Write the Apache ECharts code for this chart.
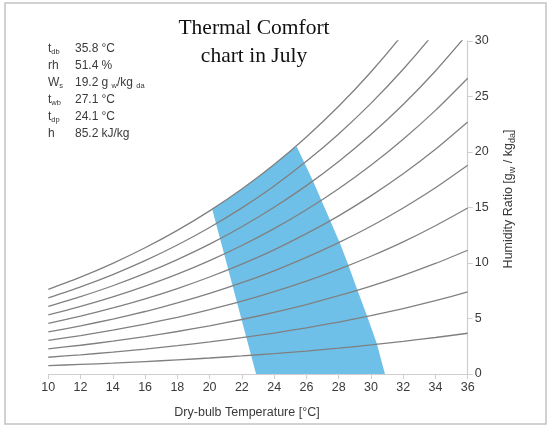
<!DOCTYPE html>
<html>
<head>
<meta charset="utf-8">
<script src="https://cdn.jsdelivr.net/npm/echarts@6/dist/echarts.min.js"></script>
<style>
html,body{margin:0;padding:0;background:#fff;}
#chart{width:550px;height:430px;}
</style>
</head>
<body>
<div id="chart"></div>
<script>
// Dry-bulb temperatures (°C) at which each relative-humidity curve is sampled
const temps = [10, 12, 14, 16, 18, 20, 22, 24, 26, 28, 30, 32, 34, 36];
// Humidity ratio (g/kg) along each relative-humidity curve
const rh10  = [0.76, 0.86, 0.98, 1.12, 1.27, 1.44, 1.63, 1.84, 2.07, 2.33, 2.62, 2.94, 3.29, 3.67];
const rh20  = [1.51, 1.73, 1.97, 2.24, 2.55, 2.89, 3.27, 3.69, 4.16, 4.68, 5.26, 5.90, 6.61, 7.39];
const rh30  = [2.27, 2.59, 2.96, 3.37, 3.83, 4.34, 4.91, 5.55, 6.26, 7.05, 7.92, 8.89, 9.96, 11.15];
const rh40  = [3.03, 3.46, 3.95, 4.50, 5.11, 5.80, 6.56, 7.42, 8.37, 9.43, 10.61, 11.91, 13.36, 14.96];
const rh50  = [3.79, 4.34, 4.95, 5.63, 6.40, 7.26, 8.23, 9.30, 10.50, 11.83, 13.31, 14.96, 16.78, 18.81];
const rh60  = [4.56, 5.21, 5.95, 6.77, 7.70, 8.74, 9.90, 11.19, 12.64, 14.25, 16.05, 18.04, 20.25, 22.71];
const rh70  = [5.32, 6.09, 6.95, 7.92, 9.00, 10.22, 11.58, 13.10, 14.80, 16.69, 18.80, 21.15, 23.75, 26.65];
const rh80  = [6.09, 6.97, 7.95, 9.06, 10.31, 11.70, 13.27, 15.02, 16.97, 19.15, 21.58, 24.28, 27.30, 30.65];
const rh90  = [6.86, 7.85, 8.96, 10.21, 11.62, 13.20, 14.97, 16.94, 19.16, 21.63, 24.38, 27.45, 30.88, 34.69];
const rh100 = [7.63, 8.73, 9.97, 11.37, 12.94, 14.70, 16.67, 18.88, 21.36, 24.12, 27.21, 30.66, 34.50, 38.79];
const rhCurves = [rh10, rh20, rh30, rh40, rh50, rh60, rh70, rh80, rh90, rh100];

// Comfort zone outline (dry-bulb °C, humidity ratio g/kg)
const zoneT = [20.17, 21, 22, 23, 24, 25, 25.4, 26.43, 27.46, 28.08, 28.6, 29.12, 29.74, 30.36, 30.87, 22.88];
const zoneW = [14.8, 15.66, 16.67, 17.74, 18.88, 20.09, 20.5, 17.32, 13.87, 11.77, 9.82, 7.72, 5.32, 2.77, 0, 0];

// Axis ticks
const xTicks = [10, 12, 14, 16, 18, 20, 22, 24, 26, 28, 30, 32, 34, 36];
const yTicks = [0, 5, 10, 15, 20, 25, 30];

// Info panel
const infoLabels = ['{m|t}{s|db}', '{m|rh}', '{m|W}{s|s}', '{m|t}{s|wb}', '{m|t}{s|dp}', '{m|h}'];
const infoValues = ['35.8', '51.4', '19.2', '27.1', '24.1', '85.2'];
const infoUnits = ['{m|°C}', '{m|%}', '{m|g }{s|w}{m|/kg }{s|da}', '{m|°C}', '{m|°C}', '{m|kJ/kg}'];

const titleText = 'Thermal Comfort\nchart in July';

const chart = echarts.init(document.getElementById('chart'), null, {renderer: 'canvas'});

const FONT = '"Liberation Sans", Arial, sans-serif';
const TXT = '#3a3a3a';
const richInfo = {
  m: {fontSize: 12, fontFamily: FONT, fill: TXT, lineHeight: 14, verticalAlign: 'middle'},
  s: {fontSize: 7.5, fontFamily: FONT, fill: TXT, lineHeight: 7, verticalAlign: 'bottom'}
};

const graphics = [
  {type: 'rect', shape: {x: 5, y: 3, width: 541, height: 421}, style: {fill: 'none', stroke: '#c4c4c4', lineWidth: 1.5}, silent: true},
  {type: 'text', x: 254, y: 14, style: {text: titleText, fontFamily: '"Liberation Serif", "Times New Roman", serif', fontSize: 21.5, lineHeight: 28, fill: '#111', align: 'center', verticalAlign: 'top'}}
];
const rowY0 = 48.5, rowStep = 17.1;
infoLabels.forEach((lab, i) => {
  const y = rowY0 + i * rowStep;
  graphics.push({type: 'text', x: 48, y: y, style: {text: lab, rich: richInfo, verticalAlign: 'middle', align: 'left'}});
  graphics.push({type: 'text', x: 75, y: y, style: {text: infoValues[i], fontSize: 12, fontFamily: FONT, fill: TXT, verticalAlign: 'middle', align: 'left'}});
  graphics.push({type: 'text', x: 101.5, y: y, style: {text: infoUnits[i], rich: richInfo, verticalAlign: 'middle', align: 'left'}});
});

const series = [{
  type: 'custom',
  z: 1,
  data: zoneT.map((t, i) => [t, zoneW[i]]),
  encode: {x: 0, y: 1},
  renderItem: function (params, api) {
    if (params.dataIndex !== 0) return null;
    const pts = zoneT.map((t, i) => api.coord([t, zoneW[i]]));
    return {type: 'polygon', shape: {points: pts}, style: {fill: '#6ec0e8', stroke: 'none'}};
  },
  silent: true
}];
rhCurves.forEach((vals) => {
  series.push({
    type: 'line',
    z: 3,
    data: temps.map((t, i) => [t, vals[i]]),
    smooth: 0.2,
    showSymbol: false,
    clip: true,
    lineStyle: {color: '#808080', width: 1.3},
    silent: true
  });
});

chart.setOption({
  animation: false,
  backgroundColor: '#fff',
  grid: {left: 48.3, right: 82.3, top: 41, bottom: 56, containLabel: false},
  xAxis: {
    type: 'value', min: 10, max: 36, interval: 2,
    name: 'Dry-bulb Temperature [°C]', nameLocation: 'middle', nameGap: 32,
    nameTextStyle: {fontFamily: FONT, fontSize: 12.5, color: TXT, padding: [0, 22, 0, 0]},
    axisLine: {show: true, lineStyle: {color: '#cfcfcf', width: 1.2}},
    axisTick: {show: true, length: 5, lineStyle: {color: '#cfcfcf'}},
    axisLabel: {fontFamily: FONT, fontSize: 12.5, color: TXT, margin: 7,
      formatter: v => xTicks.includes(v) ? String(v) : ''},
    splitLine: {show: false}
  },
  yAxis: {
    type: 'value', min: 0, max: 30, interval: 5, position: 'right',
    name: '{m|Humidity Ratio [g}{s|w}{m| / kg}{s|da}{m|]}', nameLocation: 'middle', nameGap: 33, nameRotate: 90,
    nameTextStyle: {padding: [0, 0, 0, 17], rich: {
      m: {fontFamily: FONT, fontSize: 12.5, color: TXT, lineHeight: 16, verticalAlign: 'middle'},
      s: {fontFamily: FONT, fontSize: 9, color: TXT, lineHeight: 9, verticalAlign: 'bottom'}
    }},
    axisLine: {show: true, lineStyle: {color: '#cfcfcf', width: 1.2}},
    axisTick: {show: true, length: 5, lineStyle: {color: '#cfcfcf'}},
    axisLabel: {fontFamily: FONT, fontSize: 12.5, color: TXT, margin: 7,
      formatter: v => yTicks.includes(v) ? String(v) : ''},
    splitLine: {show: false}
  },
  graphic: graphics,
  series: series
});
</script>
</body>
</html>
